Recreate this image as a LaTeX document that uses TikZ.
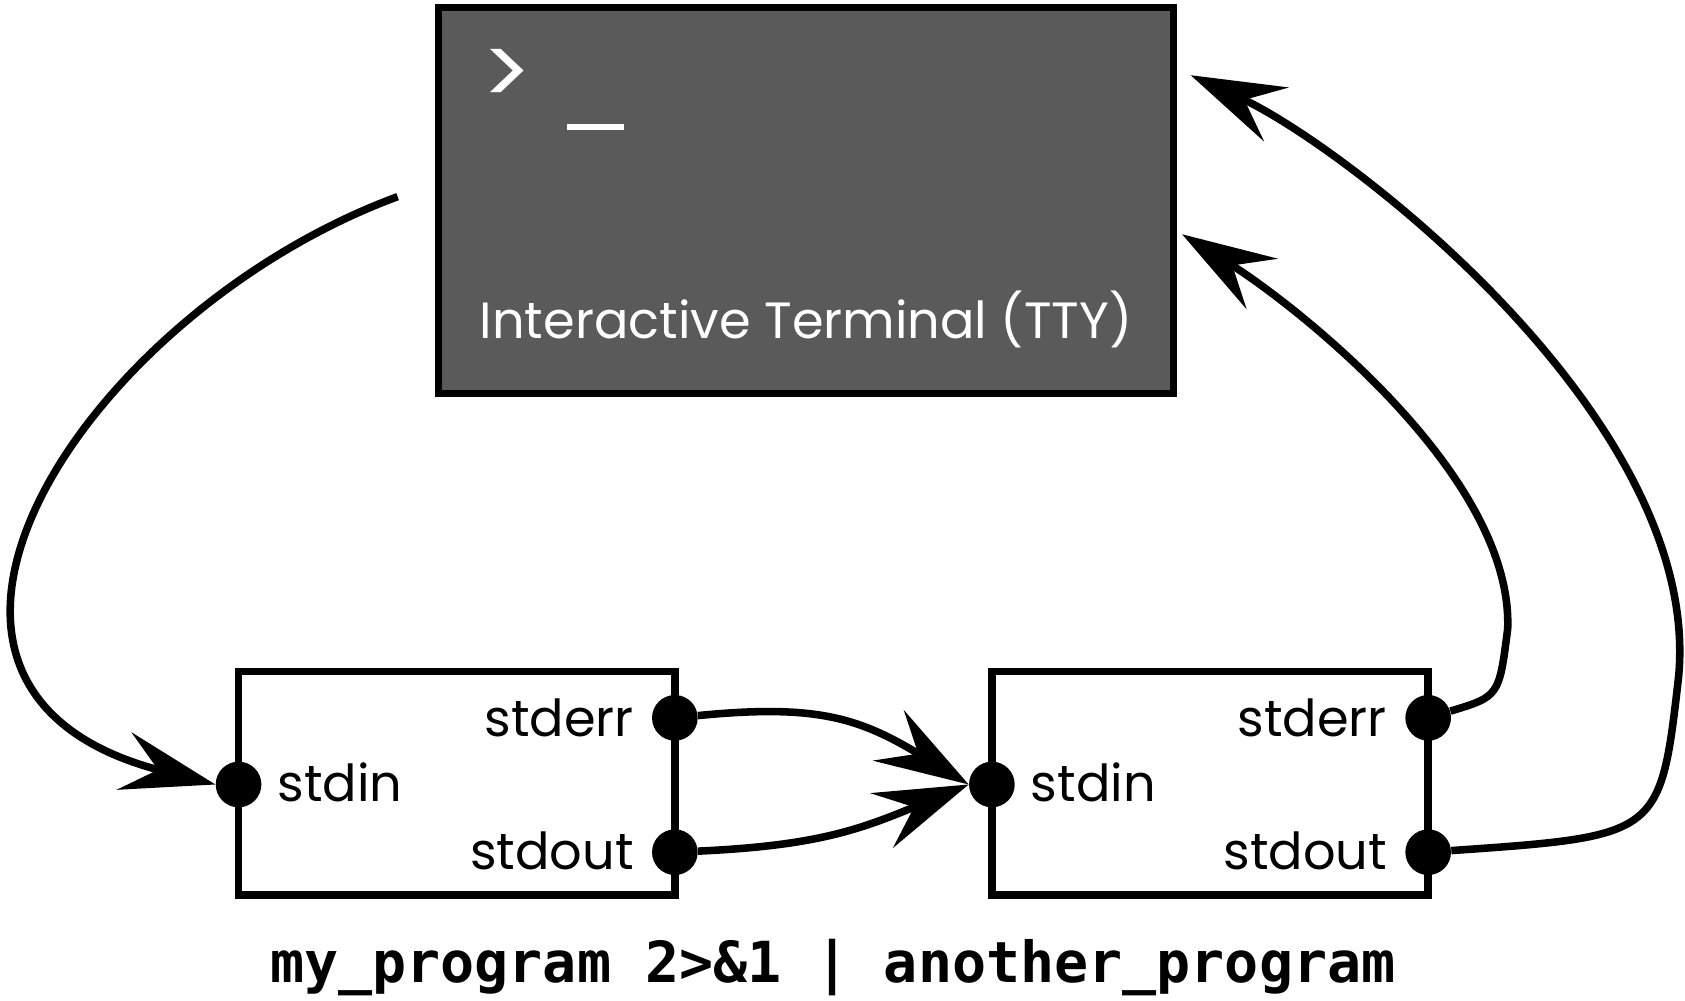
\documentclass[tikz,border=0pt]{standalone}
\usepackage{fontspec}
\setmainfont{Poppins}
\newfontfamily\codefont{DejaVu Sans Mono}
\usetikzlibrary{arrows.meta}
\definecolor{termgray}{HTML}{5A5A5A}
\begin{document}
\begin{tikzpicture}[x=0.02cm,y=-0.02cm]
	\tikzset{progbox/.style={draw=black, line width=4pt},
	port/.style={circle, fill=black, inner sep=0pt, minimum size=0.85cm},
	portlabel/.style={font=\fontsize{27}{30}\selectfont, inner sep=0pt},
	flow/.style={line width=4pt, -{Stealth[length=1.75cm,width=1.1cm,inset=0.65cm]}}};
	\useasboundingbox (0,0) rectangle (1568,931);

	% terminal
	\draw[fill=termgray, line width=4pt] (408,7) rectangle (1092,366);
	\node[text=white, font=\fontsize{50}{50}\selectfont, inner sep=0pt] (prompt) at (472,72) {>};
	\draw[white, line width=3pt] (528,118) -- (581,118);
	\node[text=white, font=\fontsize{27}{30}\selectfont, inner sep=0pt] (tty) at (750,297) {Interactive Terminal (TTY)};
	\coordinate (ttyout) at (370,183);

	% programs
	\foreach \i/\dx in {1/0, 2/701} {
		\draw[progbox] (222+\dx,625) rectangle (628+\dx,833);
		\node[port] (in\i) at (222+\dx,730) {};
		\node[port] (err\i) at (628+\dx,668) {};
		\node[port] (out\i) at (628+\dx,793) {};
		\node[portlabel, anchor=west] (lin\i) at (258+\dx,728) {stdin};
		\node[portlabel, anchor=east] (lerr\i) at (590+\dx,668) {stderr};
		\node[portlabel, anchor=east] (lout\i) at (590+\dx,792) {stdout};
	}
	\node[font=\codefont\bfseries\fontsize{30}{32}\selectfont, inner sep=0pt] (cmd) at (775,900) {my\_program 2>\&1 | another\_program};

	% connectors
	\draw[flow] (ttyout) .. controls (80,290) and (-150,640) .. (in1.west);
	\draw[flow] (err1) .. controls (760,655) and (800,668) .. (in2.west);
	\draw[flow] (out1) .. controls (760,787) and (800,772) .. (in2.west);
	\draw[flow] (err2) .. controls (1395,648) .. (1403,585) .. controls (1408,440) and (1200,280) .. (1100,218);
	\draw[flow] (out2) .. controls (1545,778) .. (1562,630) .. controls (1585,390) and (1250,135) .. (1108,70);
\end{tikzpicture}
\end{document}
